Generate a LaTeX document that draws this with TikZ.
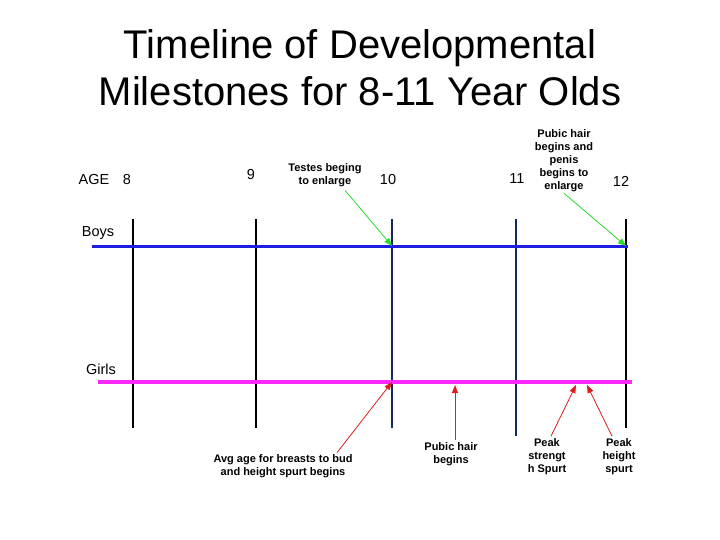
\documentclass[tikz,border=0pt]{standalone}
\usepackage{fontspec}
\setmainfont{Liberation Sans}
\usetikzlibrary{arrows.meta}

\definecolor{boyblue}{RGB}{30,30,225}
\definecolor{girlpink}{RGB}{250,40,250}
\definecolor{notegreen}{RGB}{40,220,40}
\definecolor{notered}{RGB}{220,30,30}
\definecolor{tickblue}{RGB}{20,40,90}

\begin{document}
\begin{tikzpicture}[x=1pt,y=-1pt,
    agelabel/.style ={inner sep=0pt, font=\fontsize{14.5}{16}\selectfont},
    note/.style ={inner sep=0pt, align=center, font=\fontsize{11}{13}\selectfont\bfseries},
    pointer/.style ={-{Triangle[length=8pt,width=6pt]}, line width=0.8pt}]
   \useasboundingbox (0,0) rectangle (720,540);

   % title
   \node[align=center, font=\fontsize{40}{47}\selectfont] (title) at (360,68)
     {Timeline of Developmental\\Milestones for 8-11 Year Olds};

   % ages
   \node[agelabel] (age) at (94,180) {AGE};
   \node[agelabel] (a8)  at (127,180) {8};
   \node[agelabel] (a9)  at (251,175) {9};
   \node[agelabel] (a10) at (388,180) {10};
   \node[agelabel] (a11) at (517,179) {11};
   \node[agelabel] (a12) at (621,181) {12};
   \node[agelabel] (boys)  at (98,233) {Boys};
   \node[agelabel] (girls) at (101,369) {Girls};

   % year ticks
   \draw[line width=2pt] (133,219) -- (133,428);
   \draw[line width=2pt] (256,219) -- (256,428);
   \draw[tickblue, line width=1.1pt] (392,219) -- (392,428);
   \draw[tickblue, line width=1.1pt] (516,219) -- (516,436);
   \draw[line width=1.5pt] (626,219) -- (626,428);

   % timelines
   \draw[boyblue, line width=3pt] (92,246) -- (628,246);
   \draw[girlpink, line width=4pt] (98,382) -- (632,382);

   \coordinate (b10) at (392,246);
   \coordinate (b12) at (626,246);
   \coordinate (g10) at (392,382);
   \coordinate (gpubic) at (455,385);
   \coordinate (gstrength) at (576,385);
   \coordinate (gheight) at (587,385);

   % boys notes
   \node[note] (testes) at (325,175.5) {Testes beging\\to enlarge};
   \node[note] (pubicboy) at (564,161) {Pubic hair\\begins and\\penis\\begins to\\enlarge};

   % girls notes
   \node[note] (breasts) at (283,466.5) {Avg age for breasts to bud\\and height spurt begins};
   \node[note] (pubicgirl) at (451,454) {Pubic hair\\begins};
   \node[note] (peakstr) at (547,456.5) {Peak\\strengt\\h Spurt};
   \node[note] (peakht) at (619,456.5) {Peak\\height\\spurt};

   \draw[pointer, notegreen] ([xshift=20pt,yshift=-3pt]testes.south) to (b10);
   \draw[pointer, notegreen] ([yshift=-1pt]pubicboy.south) to (b12);
   \draw[pointer, notered] ([xshift=54pt,yshift=2pt]breasts.north) to (g10);
   \draw[pointer, notered] ([xshift=4pt,yshift=2pt]pubicgirl.north) to (gpubic);
   \draw[pointer, notered] ([xshift=4pt,yshift=2pt]peakstr.north) to (gstrength);
   \draw[pointer, notered] ([xshift=-7pt,yshift=2pt]peakht.north) to (gheight);
 \end{tikzpicture}
\end{document}
